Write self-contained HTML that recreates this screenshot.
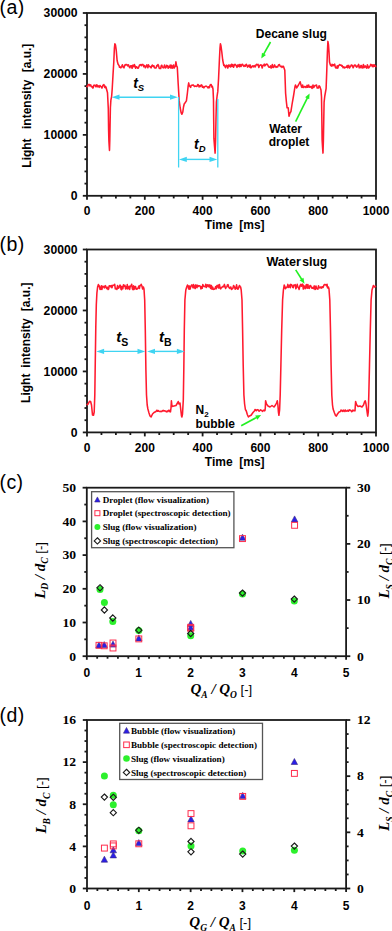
<!DOCTYPE html>
<html><head><meta charset="utf-8"><style>
html,body{margin:0;padding:0;background:#fff;overflow:hidden;}
svg{display:block;}
</style></head><body>
<svg width="392" height="931" viewBox="0 0 392 931">
<rect width="392" height="931" fill="#fff"/>
<rect x="87.00" y="13.00" width="289.00" height="182.80" fill="none" stroke="#1a1a1a" stroke-width="1.8"/>
<line x1="82.80" y1="195.80" x2="87.00" y2="195.80" stroke="#1a1a1a" stroke-width="1.8"/>
<line x1="84.50" y1="183.61" x2="87.00" y2="183.61" stroke="#1a1a1a" stroke-width="1.8"/>
<line x1="84.50" y1="171.43" x2="87.00" y2="171.43" stroke="#1a1a1a" stroke-width="1.8"/>
<line x1="84.50" y1="159.24" x2="87.00" y2="159.24" stroke="#1a1a1a" stroke-width="1.8"/>
<line x1="84.50" y1="147.05" x2="87.00" y2="147.05" stroke="#1a1a1a" stroke-width="1.8"/>
<line x1="82.80" y1="134.87" x2="87.00" y2="134.87" stroke="#1a1a1a" stroke-width="1.8"/>
<line x1="84.50" y1="122.68" x2="87.00" y2="122.68" stroke="#1a1a1a" stroke-width="1.8"/>
<line x1="84.50" y1="110.49" x2="87.00" y2="110.49" stroke="#1a1a1a" stroke-width="1.8"/>
<line x1="84.50" y1="98.31" x2="87.00" y2="98.31" stroke="#1a1a1a" stroke-width="1.8"/>
<line x1="84.50" y1="86.12" x2="87.00" y2="86.12" stroke="#1a1a1a" stroke-width="1.8"/>
<line x1="82.80" y1="73.93" x2="87.00" y2="73.93" stroke="#1a1a1a" stroke-width="1.8"/>
<line x1="84.50" y1="61.75" x2="87.00" y2="61.75" stroke="#1a1a1a" stroke-width="1.8"/>
<line x1="84.50" y1="49.56" x2="87.00" y2="49.56" stroke="#1a1a1a" stroke-width="1.8"/>
<line x1="84.50" y1="37.37" x2="87.00" y2="37.37" stroke="#1a1a1a" stroke-width="1.8"/>
<line x1="84.50" y1="25.19" x2="87.00" y2="25.19" stroke="#1a1a1a" stroke-width="1.8"/>
<line x1="82.80" y1="13.00" x2="87.00" y2="13.00" stroke="#1a1a1a" stroke-width="1.8"/>
<line x1="87.00" y1="195.80" x2="87.00" y2="199.80" stroke="#1a1a1a" stroke-width="1.8"/>
<line x1="101.45" y1="195.80" x2="101.45" y2="198.40" stroke="#1a1a1a" stroke-width="1.8"/>
<line x1="115.90" y1="195.80" x2="115.90" y2="198.40" stroke="#1a1a1a" stroke-width="1.8"/>
<line x1="130.35" y1="195.80" x2="130.35" y2="198.40" stroke="#1a1a1a" stroke-width="1.8"/>
<line x1="144.80" y1="195.80" x2="144.80" y2="199.80" stroke="#1a1a1a" stroke-width="1.8"/>
<line x1="159.25" y1="195.80" x2="159.25" y2="198.40" stroke="#1a1a1a" stroke-width="1.8"/>
<line x1="173.70" y1="195.80" x2="173.70" y2="198.40" stroke="#1a1a1a" stroke-width="1.8"/>
<line x1="188.15" y1="195.80" x2="188.15" y2="198.40" stroke="#1a1a1a" stroke-width="1.8"/>
<line x1="202.60" y1="195.80" x2="202.60" y2="199.80" stroke="#1a1a1a" stroke-width="1.8"/>
<line x1="217.05" y1="195.80" x2="217.05" y2="198.40" stroke="#1a1a1a" stroke-width="1.8"/>
<line x1="231.50" y1="195.80" x2="231.50" y2="198.40" stroke="#1a1a1a" stroke-width="1.8"/>
<line x1="245.95" y1="195.80" x2="245.95" y2="198.40" stroke="#1a1a1a" stroke-width="1.8"/>
<line x1="260.40" y1="195.80" x2="260.40" y2="199.80" stroke="#1a1a1a" stroke-width="1.8"/>
<line x1="274.85" y1="195.80" x2="274.85" y2="198.40" stroke="#1a1a1a" stroke-width="1.8"/>
<line x1="289.30" y1="195.80" x2="289.30" y2="198.40" stroke="#1a1a1a" stroke-width="1.8"/>
<line x1="303.75" y1="195.80" x2="303.75" y2="198.40" stroke="#1a1a1a" stroke-width="1.8"/>
<line x1="318.20" y1="195.80" x2="318.20" y2="199.80" stroke="#1a1a1a" stroke-width="1.8"/>
<line x1="332.65" y1="195.80" x2="332.65" y2="198.40" stroke="#1a1a1a" stroke-width="1.8"/>
<line x1="347.10" y1="195.80" x2="347.10" y2="198.40" stroke="#1a1a1a" stroke-width="1.8"/>
<line x1="361.55" y1="195.80" x2="361.55" y2="198.40" stroke="#1a1a1a" stroke-width="1.8"/>
<line x1="376.00" y1="195.80" x2="376.00" y2="199.80" stroke="#1a1a1a" stroke-width="1.8"/>
<text x="77.50" y="200.20" font-family="Liberation Sans" font-size="12.2" font-weight="bold" font-style="normal" text-anchor="end" >0</text>
<text x="77.50" y="139.27" font-family="Liberation Sans" font-size="12.2" font-weight="bold" font-style="normal" text-anchor="end" >10000</text>
<text x="77.50" y="78.33" font-family="Liberation Sans" font-size="12.2" font-weight="bold" font-style="normal" text-anchor="end" >20000</text>
<text x="77.50" y="17.40" font-family="Liberation Sans" font-size="12.2" font-weight="bold" font-style="normal" text-anchor="end" >30000</text>
<text x="87.00" y="215.10" font-family="Liberation Sans" font-size="12" font-weight="bold" font-style="normal" text-anchor="middle" >0</text>
<text x="144.80" y="215.10" font-family="Liberation Sans" font-size="12" font-weight="bold" font-style="normal" text-anchor="middle" >200</text>
<text x="202.60" y="215.10" font-family="Liberation Sans" font-size="12" font-weight="bold" font-style="normal" text-anchor="middle" >400</text>
<text x="260.40" y="215.10" font-family="Liberation Sans" font-size="12" font-weight="bold" font-style="normal" text-anchor="middle" >600</text>
<text x="318.20" y="215.10" font-family="Liberation Sans" font-size="12" font-weight="bold" font-style="normal" text-anchor="middle" >800</text>
<text x="376.00" y="215.10" font-family="Liberation Sans" font-size="12" font-weight="bold" font-style="normal" text-anchor="middle" >1000</text>
<text x="234.70" y="229.00" font-family="Liberation Sans" font-size="12" font-weight="bold" font-style="normal" text-anchor="middle" >Time&#160;&#160;[ms]</text>
<text transform="translate(31.4,167.70) rotate(-90)" font-family="Liberation Sans" font-size="12" font-weight="bold">Light</text>
<text transform="translate(31.4,129.00) rotate(-90)" font-family="Liberation Sans" font-size="12" font-weight="bold">intensity</text>
<text transform="translate(31.4,72.30) rotate(-90)" font-family="Liberation Sans" font-size="12" font-weight="bold">[a.u.]</text>
<text x="-0.50" y="13.70" font-family="Liberation Sans" font-size="19.5" font-weight="normal" font-style="normal" text-anchor="start" letter-spacing="0.4">(a)</text>
<rect x="87.00" y="249.50" width="289.00" height="182.90" fill="none" stroke="#1a1a1a" stroke-width="1.8"/>
<line x1="82.80" y1="432.40" x2="87.00" y2="432.40" stroke="#1a1a1a" stroke-width="1.8"/>
<line x1="84.50" y1="420.21" x2="87.00" y2="420.21" stroke="#1a1a1a" stroke-width="1.8"/>
<line x1="84.50" y1="408.01" x2="87.00" y2="408.01" stroke="#1a1a1a" stroke-width="1.8"/>
<line x1="84.50" y1="395.82" x2="87.00" y2="395.82" stroke="#1a1a1a" stroke-width="1.8"/>
<line x1="84.50" y1="383.63" x2="87.00" y2="383.63" stroke="#1a1a1a" stroke-width="1.8"/>
<line x1="82.80" y1="371.43" x2="87.00" y2="371.43" stroke="#1a1a1a" stroke-width="1.8"/>
<line x1="84.50" y1="359.24" x2="87.00" y2="359.24" stroke="#1a1a1a" stroke-width="1.8"/>
<line x1="84.50" y1="347.05" x2="87.00" y2="347.05" stroke="#1a1a1a" stroke-width="1.8"/>
<line x1="84.50" y1="334.85" x2="87.00" y2="334.85" stroke="#1a1a1a" stroke-width="1.8"/>
<line x1="84.50" y1="322.66" x2="87.00" y2="322.66" stroke="#1a1a1a" stroke-width="1.8"/>
<line x1="82.80" y1="310.47" x2="87.00" y2="310.47" stroke="#1a1a1a" stroke-width="1.8"/>
<line x1="84.50" y1="298.27" x2="87.00" y2="298.27" stroke="#1a1a1a" stroke-width="1.8"/>
<line x1="84.50" y1="286.08" x2="87.00" y2="286.08" stroke="#1a1a1a" stroke-width="1.8"/>
<line x1="84.50" y1="273.89" x2="87.00" y2="273.89" stroke="#1a1a1a" stroke-width="1.8"/>
<line x1="84.50" y1="261.69" x2="87.00" y2="261.69" stroke="#1a1a1a" stroke-width="1.8"/>
<line x1="82.80" y1="249.50" x2="87.00" y2="249.50" stroke="#1a1a1a" stroke-width="1.8"/>
<line x1="87.00" y1="432.40" x2="87.00" y2="436.40" stroke="#1a1a1a" stroke-width="1.8"/>
<line x1="101.45" y1="432.40" x2="101.45" y2="435.00" stroke="#1a1a1a" stroke-width="1.8"/>
<line x1="115.90" y1="432.40" x2="115.90" y2="435.00" stroke="#1a1a1a" stroke-width="1.8"/>
<line x1="130.35" y1="432.40" x2="130.35" y2="435.00" stroke="#1a1a1a" stroke-width="1.8"/>
<line x1="144.80" y1="432.40" x2="144.80" y2="436.40" stroke="#1a1a1a" stroke-width="1.8"/>
<line x1="159.25" y1="432.40" x2="159.25" y2="435.00" stroke="#1a1a1a" stroke-width="1.8"/>
<line x1="173.70" y1="432.40" x2="173.70" y2="435.00" stroke="#1a1a1a" stroke-width="1.8"/>
<line x1="188.15" y1="432.40" x2="188.15" y2="435.00" stroke="#1a1a1a" stroke-width="1.8"/>
<line x1="202.60" y1="432.40" x2="202.60" y2="436.40" stroke="#1a1a1a" stroke-width="1.8"/>
<line x1="217.05" y1="432.40" x2="217.05" y2="435.00" stroke="#1a1a1a" stroke-width="1.8"/>
<line x1="231.50" y1="432.40" x2="231.50" y2="435.00" stroke="#1a1a1a" stroke-width="1.8"/>
<line x1="245.95" y1="432.40" x2="245.95" y2="435.00" stroke="#1a1a1a" stroke-width="1.8"/>
<line x1="260.40" y1="432.40" x2="260.40" y2="436.40" stroke="#1a1a1a" stroke-width="1.8"/>
<line x1="274.85" y1="432.40" x2="274.85" y2="435.00" stroke="#1a1a1a" stroke-width="1.8"/>
<line x1="289.30" y1="432.40" x2="289.30" y2="435.00" stroke="#1a1a1a" stroke-width="1.8"/>
<line x1="303.75" y1="432.40" x2="303.75" y2="435.00" stroke="#1a1a1a" stroke-width="1.8"/>
<line x1="318.20" y1="432.40" x2="318.20" y2="436.40" stroke="#1a1a1a" stroke-width="1.8"/>
<line x1="332.65" y1="432.40" x2="332.65" y2="435.00" stroke="#1a1a1a" stroke-width="1.8"/>
<line x1="347.10" y1="432.40" x2="347.10" y2="435.00" stroke="#1a1a1a" stroke-width="1.8"/>
<line x1="361.55" y1="432.40" x2="361.55" y2="435.00" stroke="#1a1a1a" stroke-width="1.8"/>
<line x1="376.00" y1="432.40" x2="376.00" y2="436.40" stroke="#1a1a1a" stroke-width="1.8"/>
<text x="77.50" y="436.80" font-family="Liberation Sans" font-size="12.2" font-weight="bold" font-style="normal" text-anchor="end" >0</text>
<text x="77.50" y="375.83" font-family="Liberation Sans" font-size="12.2" font-weight="bold" font-style="normal" text-anchor="end" >10000</text>
<text x="77.50" y="314.87" font-family="Liberation Sans" font-size="12.2" font-weight="bold" font-style="normal" text-anchor="end" >20000</text>
<text x="77.50" y="253.90" font-family="Liberation Sans" font-size="12.2" font-weight="bold" font-style="normal" text-anchor="end" >30000</text>
<text x="87.00" y="451.70" font-family="Liberation Sans" font-size="12" font-weight="bold" font-style="normal" text-anchor="middle" >0</text>
<text x="144.80" y="451.70" font-family="Liberation Sans" font-size="12" font-weight="bold" font-style="normal" text-anchor="middle" >200</text>
<text x="202.60" y="451.70" font-family="Liberation Sans" font-size="12" font-weight="bold" font-style="normal" text-anchor="middle" >400</text>
<text x="260.40" y="451.70" font-family="Liberation Sans" font-size="12" font-weight="bold" font-style="normal" text-anchor="middle" >600</text>
<text x="318.20" y="451.70" font-family="Liberation Sans" font-size="12" font-weight="bold" font-style="normal" text-anchor="middle" >800</text>
<text x="376.00" y="451.70" font-family="Liberation Sans" font-size="12" font-weight="bold" font-style="normal" text-anchor="middle" >1000</text>
<text x="234.70" y="465.60" font-family="Liberation Sans" font-size="12" font-weight="bold" font-style="normal" text-anchor="middle" >Time&#160;&#160;[ms]</text>
<text transform="translate(29.5,402.90) rotate(-90)" font-family="Liberation Sans" font-size="12" font-weight="bold">Light</text>
<text transform="translate(29.5,367.70) rotate(-90)" font-family="Liberation Sans" font-size="12" font-weight="bold">intensity</text>
<text transform="translate(29.5,311.20) rotate(-90)" font-family="Liberation Sans" font-size="12" font-weight="bold">[a.u.]</text>
<text x="-0.50" y="250.70" font-family="Liberation Sans" font-size="19.5" font-weight="normal" font-style="normal" text-anchor="start" letter-spacing="0.4">(b)</text>
<path d="M86.60,85.67 L87.11,86.78 L87.60,86.48 L88.19,84.73 L88.85,84.48 L89.47,84.57 L89.96,85.86 L90.74,84.90 L91.28,86.62 L92.11,86.61 L92.72,88.05 L93.19,87.77 L93.76,85.17 L94.26,85.50 L95.03,85.07 L95.71,86.68 L96.31,86.51 L96.79,84.74 L97.33,86.79 L97.95,85.68 L98.63,86.07 L99.21,87.34 L99.93,85.48 L100.61,86.31 L101.41,87.13 L101.98,88.11 L102.48,86.19 L103.23,85.04 L103.87,84.51 L104.59,87.07 L105.27,87.73 L105.50,86.30 L106.00,87.30 L107.50,92.70 L108.30,108.80 L108.60,130.00 L108.90,141.00 L109.20,146.00 L109.50,150.40 L109.80,140.00 L110.00,129.00 L110.40,107.50 L110.90,100.00 L111.60,96.70 L112.20,89.00 L113.00,75.00 L113.80,61.80 L114.40,48.00 L114.90,43.70 L115.50,45.00 L116.20,49.80 L117.10,60.50 L118.00,64.00 L119.20,65.90 L119.50,67.27 L120.19,66.89 L120.82,67.89 L121.64,66.54 L122.36,64.76 L123.09,66.91 L123.93,67.82 L124.49,66.18 L125.21,64.58 L125.84,64.99 L126.35,64.60 L127.10,64.84 L127.65,65.90 L128.45,64.78 L129.08,66.52 L129.88,67.77 L130.67,65.75 L131.29,65.87 L132.09,68.25 L132.60,65.39 L133.14,65.33 L133.79,66.74 L134.35,64.56 L134.96,65.79 L135.64,68.22 L136.36,66.73 L137.06,67.22 L137.54,68.15 L138.30,68.15 L139.06,66.24 L139.67,64.90 L140.37,64.61 L140.86,65.16 L141.37,65.73 L141.85,64.44 L142.36,64.72 L142.96,64.44 L143.76,66.75 L144.27,65.54 L144.86,65.87 L145.36,67.82 L146.21,66.50 L146.85,64.86 L147.34,65.71 L147.90,67.72 L148.42,64.73 L149.25,66.44 L149.76,66.66 L150.22,66.63 L151.06,67.95 L151.79,65.70 L152.38,65.10 L153.14,66.49 L153.90,65.82 L154.44,67.67 L155.28,68.01 L156.05,67.91 L156.79,65.56 L157.45,65.83 L157.92,64.56 L158.48,65.35 L159.21,68.19 L159.84,68.40 L160.68,68.49 L161.27,65.59 L161.82,65.21 L162.35,66.86 L163.16,67.88 L163.80,67.24 L164.57,64.93 L165.28,67.97 L166.04,67.64 L166.68,65.34 L167.44,65.72 L168.21,68.29 L168.82,66.29 L169.64,67.37 L170.17,65.11 L170.68,67.96 L171.45,65.25 L172.23,68.28 L172.94,66.09 L173.61,65.00 L174.07,68.21 L174.78,66.78 L175.30,66.50 L175.90,61.80 L176.60,66.00 L177.30,67.20 L178.20,84.00 L179.20,100.90 L180.20,108.00 L181.20,113.00 L181.90,114.30 L182.80,112.00 L183.50,107.00 L184.20,104.00 L185.30,102.50 L186.40,100.90 L187.40,93.00 L188.20,85.60 L188.70,82.90 L189.30,86.00 L189.80,86.06 L190.59,87.45 L191.13,85.52 L191.70,85.29 L192.39,85.33 L193.00,84.88 L193.81,85.63 L194.45,86.53 L195.25,86.04 L196.07,86.28 L196.73,86.38 L197.19,86.09 L197.72,84.49 L198.49,84.94 L199.13,86.97 L199.80,85.74 L200.45,86.44 L201.22,84.90 L201.89,85.25 L202.45,87.18 L203.10,86.61 L203.86,87.82 L204.48,86.86 L205.14,86.40 L205.86,86.14 L206.52,86.20 L207.35,87.01 L208.14,87.96 L208.70,86.68 L209.52,87.56 L210.03,85.06 L210.66,84.64 L211.21,84.60 L211.92,87.15 L212.30,86.30 L213.00,89.00 L213.50,100.00 L213.70,120.00 L213.90,138.40 L214.50,146.00 L215.10,153.10 L215.60,140.00 L216.00,118.00 L216.40,102.10 L217.10,96.00 L217.80,91.40 L218.60,78.00 L219.40,60.00 L220.00,48.00 L220.40,43.70 L221.00,46.00 L221.80,52.00 L222.70,60.00 L223.80,65.50 L224.30,64.83 L225.03,66.70 L225.55,67.77 L226.38,65.25 L227.20,65.70 L227.85,68.09 L228.63,65.05 L229.25,66.15 L229.84,64.99 L230.42,66.96 L230.88,66.49 L231.51,64.32 L232.09,66.50 L232.75,64.50 L233.59,67.17 L234.42,64.73 L234.98,64.23 L235.74,65.09 L236.24,65.78 L237.05,67.42 L237.61,64.93 L238.42,66.35 L239.15,64.59 L239.63,66.78 L240.25,64.57 L241.07,66.57 L241.84,64.59 L242.63,64.32 L243.42,65.83 L244.01,66.37 L244.82,65.30 L245.33,66.22 L245.88,64.66 L246.39,64.27 L246.93,65.26 L247.50,67.13 L248.07,66.29 L248.59,65.60 L249.06,65.15 L249.52,67.02 L250.19,65.05 L250.83,67.81 L251.32,67.62 L251.95,66.32 L252.73,65.79 L253.38,66.90 L254.22,65.65 L255.00,66.96 L255.70,65.90 L256.29,64.41 L256.80,64.32 L257.54,65.04 L258.06,64.44 L258.84,67.49 L259.56,65.47 L260.11,65.31 L260.74,64.75 L261.37,65.12 L262.20,67.96 L262.87,65.36 L263.70,65.36 L264.30,64.14 L264.90,65.89 L265.55,64.99 L266.20,64.12 L266.76,64.37 L267.37,64.20 L267.83,65.22 L268.38,66.44 L269.04,67.22 L269.75,67.16 L270.55,65.86 L271.13,68.09 L271.65,67.28 L272.35,64.50 L273.13,67.58 L273.83,67.26 L274.60,64.88 L275.26,66.09 L276.04,67.40 L276.82,66.65 L277.63,66.97 L278.35,65.21 L278.82,64.65 L279.41,64.48 L280.19,66.26 L280.89,66.71 L281.61,66.21 L282.07,67.38 L282.82,66.33 L283.40,66.20 L284.80,70.30 L285.60,93.30 L286.40,102.00 L287.10,107.80 L288.20,107.80 L289.00,116.20 L290.00,113.00 L290.90,111.60 L292.10,104.00 L293.50,96.00 L295.00,86.50 L295.50,85.00 L296.70,87.90 L298.50,85.00 L300.10,81.80 L301.20,85.60 L301.60,87.07 L302.08,87.41 L302.63,85.06 L303.19,87.18 L303.73,87.43 L304.56,86.57 L305.17,86.43 L305.89,87.45 L306.58,87.11 L307.07,85.29 L307.62,87.25 L308.20,86.82 L308.66,84.95 L309.22,86.96 L309.94,87.18 L310.51,86.63 L311.15,86.39 L311.65,87.91 L312.18,88.36 L313.00,84.95 L313.64,87.50 L314.47,86.42 L315.03,85.45 L315.85,85.35 L316.53,85.10 L317.19,87.99 L317.70,87.80 L318.35,88.02 L319.08,85.69 L319.80,86.50 L321.00,90.00 L321.50,97.00 L321.80,115.00 L322.10,139.70 L322.60,148.00 L323.00,153.10 L323.40,140.00 L323.80,118.00 L324.10,102.10 L324.80,96.00 L325.50,92.00 L326.10,88.70 L326.80,70.00 L327.40,52.00 L327.90,41.40 L328.50,45.00 L329.00,52.00 L329.50,62.00 L330.40,65.00 L331.20,65.90 L331.60,66.15 L332.06,64.23 L332.71,65.81 L333.28,64.74 L333.87,65.33 L334.66,64.14 L335.40,67.34 L335.91,68.00 L336.64,67.97 L337.21,65.87 L337.81,68.14 L338.50,65.84 L339.12,65.27 L339.60,64.53 L340.38,65.18 L341.20,65.11 L341.75,66.13 L342.28,65.69 L343.11,67.67 L343.88,66.87 L344.69,68.01 L345.36,67.25 L345.84,67.23 L346.47,67.30 L347.18,65.46 L347.65,67.82 L348.15,66.25 L348.74,65.40 L349.49,68.01 L350.04,67.00 L350.61,66.51 L351.22,64.91 L351.74,64.91 L352.55,66.06 L353.09,67.79 L353.93,66.16 L354.44,64.98 L354.93,65.45 L355.42,65.09 L355.98,66.36 L356.78,67.21 L357.40,65.96 L358.06,65.69 L358.64,64.41 L359.21,67.87 L359.71,66.38 L360.41,67.66 L360.95,65.44 L361.50,65.73 L362.13,67.95 L362.92,67.85 L363.38,64.51 L364.11,67.60 L364.75,66.69 L365.21,65.82 L366.02,67.45 L366.81,68.20 L367.36,64.85 L367.88,66.15 L368.60,67.94 L369.34,66.96 L370.09,66.11 L370.76,64.37 L371.52,64.96 L372.33,66.65 L372.91,64.77 L373.46,66.60 L374.19,64.70 L374.67,66.15 L375.35,65.75 L375.90,66.56 L376.00,66.20" fill="none" stroke="#ff1a2e" stroke-width="1.55" stroke-linejoin="round"/>
<path d="M86.60,405.00 L88.00,404.00 L89.70,401.20 L90.60,401.50 L91.50,405.00 L92.00,410.00 L92.50,415.00 L93.50,415.30 L94.20,412.00 L94.80,395.00 L95.30,360.00 L95.80,326.50 L96.30,305.00 L96.90,293.00 L97.60,287.00 L98.40,284.50 L99.00,286.50 L99.40,285.93 L100.03,289.37 L100.74,289.31 L101.38,285.80 L101.93,289.37 L102.66,286.20 L103.13,286.91 L103.84,286.56 L104.40,287.86 L105.22,285.61 L105.68,285.99 L106.30,287.88 L106.83,288.69 L107.58,287.20 L108.11,289.56 L108.69,288.98 L109.23,285.69 L109.99,285.76 L110.81,286.85 L111.34,285.49 L111.96,287.74 L112.78,285.16 L113.39,285.27 L114.23,284.89 L114.70,284.41 L115.31,288.89 L116.11,288.45 L116.95,289.48 L117.54,285.55 L118.36,288.18 L118.82,288.01 L119.43,286.42 L120.01,285.16 L120.47,285.63 L121.06,289.32 L121.56,289.74 L122.10,286.50 L122.87,288.69 L123.50,284.73 L124.14,286.09 L124.95,285.25 L125.55,288.97 L126.02,286.72 L126.79,288.41 L127.26,284.63 L127.74,289.03 L128.29,288.54 L129.10,286.28 L129.66,289.40 L130.35,285.96 L131.09,285.90 L131.65,284.21 L132.40,288.97 L133.10,289.59 L133.57,285.82 L134.21,289.35 L135.04,286.62 L135.59,286.58 L136.24,289.27 L136.76,288.86 L137.51,288.93 L138.26,287.77 L138.84,286.10 L139.44,288.43 L139.93,285.51 L140.67,285.49 L141.16,284.33 L141.83,285.79 L142.66,288.95 L143.40,287.00 L144.00,289.00 L144.70,300.00 L145.30,330.00 L145.90,370.00 L146.50,395.00 L147.20,405.00 L147.90,409.00 L149.00,413.00 L150.00,416.00 L151.10,417.00 L152.50,414.00 L154.00,412.50 L156.00,411.50 L156.50,410.58 L156.99,410.23 L157.64,411.30 L158.27,410.55 L158.88,411.17 L159.60,411.46 L160.39,411.34 L160.89,411.65 L161.46,411.19 L162.06,411.45 L162.59,410.59 L163.14,410.33 L163.94,411.07 L164.53,410.82 L165.37,411.00 L165.91,411.55 L166.62,411.94 L167.12,411.05 L167.89,411.62 L168.70,410.23 L169.27,410.24 L169.80,411.78 L170.48,411.85 L170.60,411.00 L171.00,408.00 L171.40,400.80 L172.00,406.50 L174.00,406.00 L176.00,405.50 L177.50,403.00 L178.20,401.50 L179.00,404.00 L180.00,403.00 L180.80,410.00 L181.50,416.00 L181.90,417.00 L182.50,414.00 L183.30,400.00 L183.80,370.00 L184.30,330.00 L184.90,300.00 L185.80,290.00 L186.70,287.00 L187.50,285.00 L188.20,286.50 L188.60,288.98 L189.23,285.90 L189.99,289.30 L190.48,287.75 L191.18,285.55 L191.78,284.92 L192.31,285.47 L193.00,287.67 L193.54,284.43 L194.12,287.71 L194.65,286.06 L195.18,288.50 L195.85,284.79 L196.35,286.21 L197.01,287.67 L197.51,285.25 L198.23,286.34 L198.80,285.89 L199.62,285.88 L200.30,286.12 L200.92,288.88 L201.76,286.45 L202.29,288.18 L202.83,284.45 L203.63,286.33 L204.41,286.43 L205.21,286.73 L205.73,284.35 L206.40,287.49 L207.21,284.83 L207.90,286.09 L208.56,285.00 L209.12,286.91 L209.94,284.88 L210.58,288.43 L211.42,285.51 L211.92,289.24 L212.76,287.13 L213.23,289.31 L213.84,289.41 L214.53,288.99 L215.05,288.74 L215.59,286.66 L216.38,288.74 L216.91,285.65 L217.52,286.96 L218.12,284.96 L218.67,288.01 L219.48,284.62 L220.15,288.15 L220.62,288.94 L221.12,287.73 L221.79,287.76 L222.37,286.64 L223.05,286.56 L223.76,286.67 L224.39,284.39 L225.08,286.68 L225.63,288.39 L226.39,286.91 L226.91,286.85 L227.41,284.98 L228.03,284.59 L228.66,286.81 L229.13,287.72 L229.62,288.33 L230.38,287.20 L230.85,287.04 L231.46,289.44 L231.96,289.17 L232.81,288.47 L233.58,285.49 L234.42,286.81 L235.25,289.23 L235.77,288.78 L236.58,284.83 L237.17,288.17 L237.69,289.26 L238.25,288.93 L238.77,287.20 L239.58,285.45 L240.14,286.88 L240.60,287.00 L241.20,290.00 L242.00,300.00 L242.60,330.00 L243.20,365.00 L243.90,395.00 L244.60,404.00 L245.40,409.50 L246.30,411.00 L247.30,414.50 L248.40,417.00 L249.50,416.00 L251.10,415.20 L253.00,412.50 L254.60,410.70 L255.00,409.57 L255.53,409.71 L256.35,410.65 L257.15,409.83 L257.91,409.65 L258.57,410.57 L259.17,411.09 L259.84,410.61 L260.64,409.71 L261.48,410.56 L262.09,410.95 L262.65,411.34 L263.33,410.24 L264.08,410.28 L264.61,410.83 L265.00,410.40 L265.30,408.00 L265.60,400.80 L266.50,404.00 L268.00,406.00 L270.00,407.00 L272.00,405.50 L274.00,407.00 L275.50,405.00 L276.50,403.00 L277.30,400.80 L277.90,405.00 L278.40,412.00 L278.90,415.30 L279.60,410.00 L280.20,395.00 L280.90,365.00 L281.70,330.00 L282.60,300.00 L283.40,290.00 L284.20,285.00 L284.90,286.50 L285.30,288.73 L285.85,287.92 L286.69,287.56 L287.41,286.04 L287.86,284.39 L288.38,287.37 L289.00,287.10 L289.80,285.02 L290.35,287.63 L290.81,284.38 L291.40,284.61 L292.00,285.27 L292.68,287.31 L293.22,287.70 L293.86,285.10 L294.68,285.43 L295.19,284.66 L295.89,288.77 L296.65,286.65 L297.21,284.33 L297.92,287.07 L298.51,287.79 L299.14,289.44 L299.88,285.89 L300.69,284.43 L301.35,286.23 L301.90,284.54 L302.65,284.12 L303.32,289.09 L303.84,285.59 L304.53,286.90 L305.23,288.68 L305.76,286.14 L306.33,284.48 L307.13,288.28 L307.86,284.46 L308.65,288.07 L309.28,288.41 L309.92,285.66 L310.41,285.42 L310.88,285.95 L311.63,287.95 L312.41,288.24 L312.97,287.41 L313.60,288.60 L314.26,285.89 L314.96,289.40 L315.50,289.29 L315.96,285.94 L316.51,288.21 L317.33,288.45 L317.92,289.20 L318.50,285.81 L319.31,287.59 L320.03,287.95 L320.87,286.93 L321.65,288.06 L322.44,286.77 L323.18,287.36 L323.75,285.48 L324.45,284.57 L325.26,284.84 L325.73,284.66 L326.55,285.93 L327.06,284.35 L327.53,287.77 L328.23,288.14 L328.40,287.00 L329.00,289.00 L329.80,300.00 L330.50,330.00 L331.10,365.00 L331.80,395.00 L332.50,405.00 L333.10,409.00 L334.50,413.00 L335.50,415.50 L336.30,416.10 L337.50,414.00 L339.00,412.00 L340.50,411.50 L341.00,410.02 L341.69,410.48 L342.46,411.34 L343.26,410.07 L344.06,411.47 L344.88,410.16 L345.41,410.04 L345.88,411.35 L346.65,411.10 L347.43,411.07 L348.00,410.11 L348.49,411.19 L349.03,410.51 L349.65,409.91 L350.20,410.32 L350.94,410.51 L351.52,411.61 L352.17,411.51 L352.86,410.03 L353.48,410.61 L354.24,410.51 L354.97,410.84 L355.00,410.80 L355.30,406.00 L355.60,401.60 L356.50,404.50 L358.00,406.50 L360.00,406.00 L362.00,407.00 L363.50,405.00 L364.50,402.00 L365.30,400.80 L366.00,404.00 L366.80,410.00 L367.70,416.10 L368.30,412.00 L368.80,395.00 L369.50,365.00 L370.30,330.00 L371.10,300.00 L372.00,290.00 L373.40,285.50 L374.50,287.00 L376.00,286.00" fill="none" stroke="#ff1a2e" stroke-width="1.55" stroke-linejoin="round"/>
<line x1="118.50" y1="97.20" x2="171.00" y2="97.20" stroke="#3fd4f2" stroke-width="1.4"/>
<path d="M111.70,97.20 L119.50,94.60 L119.50,99.80 Z" fill="#3fd4f2"/>
<path d="M177.80,97.20 L170.00,94.60 L170.00,99.80 Z" fill="#3fd4f2"/>
<line x1="178.6" y1="97" x2="178.6" y2="167.5" stroke="#3fd4f2" stroke-width="1.3"/>
<line x1="185.80" y1="159.40" x2="210.50" y2="159.40" stroke="#3fd4f2" stroke-width="1.4"/>
<path d="M179.00,159.40 L186.80,156.80 L186.80,162.00 Z" fill="#3fd4f2"/>
<path d="M217.30,159.40 L209.50,156.80 L209.50,162.00 Z" fill="#3fd4f2"/>
<line x1="217.8" y1="99" x2="217.8" y2="167.5" stroke="#3fd4f2" stroke-width="1.3"/>
<text x="133.20" y="87.80" font-family="Liberation Sans" font-size="14" font-weight="bold" font-style="italic">t<tspan font-size="9.5" dy="2.9">S</tspan></text>
<text x="194.00" y="148.90" font-family="Liberation Sans" font-size="14" font-weight="bold" font-style="italic">t<tspan font-size="9.5" dy="2.9">D</tspan></text>
<line x1="103.10" y1="351.40" x2="138.50" y2="351.40" stroke="#3fd4f2" stroke-width="1.4"/>
<path d="M96.30,351.40 L104.10,348.80 L104.10,354.00 Z" fill="#3fd4f2"/>
<path d="M145.30,351.40 L137.50,348.80 L137.50,354.00 Z" fill="#3fd4f2"/>
<line x1="154.00" y1="351.40" x2="177.90" y2="351.40" stroke="#3fd4f2" stroke-width="1.4"/>
<path d="M147.20,351.40 L155.00,348.80 L155.00,354.00 Z" fill="#3fd4f2"/>
<path d="M184.70,351.40 L176.90,348.80 L176.90,354.00 Z" fill="#3fd4f2"/>
<text x="116.2" y="342.0" font-family="Liberation Sans" font-size="15" font-weight="bold"><tspan font-style="italic">t</tspan><tspan font-size="10.5" dy="3.7">S</tspan></text>
<text x="158.9" y="342.0" font-family="Liberation Sans" font-size="15" font-weight="bold"><tspan font-style="italic">t</tspan><tspan font-size="10.5" dy="3.7">B</tspan></text>
<text x="291.30" y="38.20" font-family="Liberation Sans" font-size="12.1" font-weight="bold" font-style="normal" text-anchor="middle" >Decane slug</text>
<line x1="270.50" y1="42.00" x2="263.72" y2="54.23" stroke="#22f022" stroke-width="1.6"/>
<path d="M261.30,58.60 L261.95,52.67 L265.98,54.90 Z" fill="#22f022"/>
<text x="285.60" y="133.00" font-family="Liberation Sans" font-size="12" font-weight="bold" font-style="normal" text-anchor="middle" >Water</text>
<text x="289.00" y="145.80" font-family="Liberation Sans" font-size="12" font-weight="bold" font-style="normal" text-anchor="middle" >droplet</text>
<line x1="295.60" y1="121.70" x2="307.38" y2="97.88" stroke="#22f022" stroke-width="1.6"/>
<path d="M309.60,93.40 L309.22,99.35 L305.10,97.31 Z" fill="#22f022"/>
<text x="266.40" y="266.40" font-family="Liberation Sans" font-size="12.6" font-weight="bold" font-style="normal" text-anchor="start" >Water</text>
<text x="302.30" y="266.40" font-family="Liberation Sans" font-size="12.1" font-weight="bold" font-style="normal" text-anchor="start" >slug</text>
<line x1="295.70" y1="269.90" x2="301.81" y2="279.48" stroke="#22f022" stroke-width="1.6"/>
<path d="M304.50,283.70 L299.60,280.30 L303.48,277.83 Z" fill="#22f022"/>
<text x="195.6" y="414.4" font-family="Liberation Sans" font-size="12" font-weight="bold">N<tspan font-size="8" dy="2.5">2</tspan></text>
<text x="195.60" y="428.20" font-family="Liberation Sans" font-size="12" font-weight="bold" font-style="normal" text-anchor="start" >bubble</text>
<line x1="241.20" y1="425.70" x2="256.70" y2="417.37" stroke="#22f022" stroke-width="1.6"/>
<path d="M261.10,415.00 L257.35,419.63 L255.17,415.58 Z" fill="#22f022"/>
<rect x="86.80" y="487.70" width="259.30" height="168.50" fill="none" stroke="#1a1a1a" stroke-width="1.8"/>
<line x1="82.60" y1="656.20" x2="86.80" y2="656.20" stroke="#1a1a1a" stroke-width="1.8"/>
<line x1="84.30" y1="639.35" x2="86.80" y2="639.35" stroke="#1a1a1a" stroke-width="1.8"/>
<line x1="82.60" y1="622.50" x2="86.80" y2="622.50" stroke="#1a1a1a" stroke-width="1.8"/>
<line x1="84.30" y1="605.65" x2="86.80" y2="605.65" stroke="#1a1a1a" stroke-width="1.8"/>
<line x1="82.60" y1="588.80" x2="86.80" y2="588.80" stroke="#1a1a1a" stroke-width="1.8"/>
<line x1="84.30" y1="571.95" x2="86.80" y2="571.95" stroke="#1a1a1a" stroke-width="1.8"/>
<line x1="82.60" y1="555.10" x2="86.80" y2="555.10" stroke="#1a1a1a" stroke-width="1.8"/>
<line x1="84.30" y1="538.25" x2="86.80" y2="538.25" stroke="#1a1a1a" stroke-width="1.8"/>
<line x1="82.60" y1="521.40" x2="86.80" y2="521.40" stroke="#1a1a1a" stroke-width="1.8"/>
<line x1="84.30" y1="504.55" x2="86.80" y2="504.55" stroke="#1a1a1a" stroke-width="1.8"/>
<line x1="82.60" y1="487.70" x2="86.80" y2="487.70" stroke="#1a1a1a" stroke-width="1.8"/>
<line x1="346.10" y1="656.20" x2="350.30" y2="656.20" stroke="#1a1a1a" stroke-width="1.8"/>
<line x1="346.10" y1="628.12" x2="348.60" y2="628.12" stroke="#1a1a1a" stroke-width="1.8"/>
<line x1="346.10" y1="600.03" x2="350.30" y2="600.03" stroke="#1a1a1a" stroke-width="1.8"/>
<line x1="346.10" y1="571.95" x2="348.60" y2="571.95" stroke="#1a1a1a" stroke-width="1.8"/>
<line x1="346.10" y1="543.87" x2="350.30" y2="543.87" stroke="#1a1a1a" stroke-width="1.8"/>
<line x1="346.10" y1="515.78" x2="348.60" y2="515.78" stroke="#1a1a1a" stroke-width="1.8"/>
<line x1="346.10" y1="487.70" x2="350.30" y2="487.70" stroke="#1a1a1a" stroke-width="1.8"/>
<line x1="86.80" y1="656.20" x2="86.80" y2="659.80" stroke="#1a1a1a" stroke-width="1.8"/>
<line x1="97.17" y1="656.20" x2="97.17" y2="658.70" stroke="#1a1a1a" stroke-width="1.8"/>
<line x1="107.54" y1="656.20" x2="107.54" y2="658.70" stroke="#1a1a1a" stroke-width="1.8"/>
<line x1="117.92" y1="656.20" x2="117.92" y2="658.70" stroke="#1a1a1a" stroke-width="1.8"/>
<line x1="128.29" y1="656.20" x2="128.29" y2="658.70" stroke="#1a1a1a" stroke-width="1.8"/>
<line x1="138.66" y1="656.20" x2="138.66" y2="659.80" stroke="#1a1a1a" stroke-width="1.8"/>
<line x1="149.03" y1="656.20" x2="149.03" y2="658.70" stroke="#1a1a1a" stroke-width="1.8"/>
<line x1="159.40" y1="656.20" x2="159.40" y2="658.70" stroke="#1a1a1a" stroke-width="1.8"/>
<line x1="169.78" y1="656.20" x2="169.78" y2="658.70" stroke="#1a1a1a" stroke-width="1.8"/>
<line x1="180.15" y1="656.20" x2="180.15" y2="658.70" stroke="#1a1a1a" stroke-width="1.8"/>
<line x1="190.52" y1="656.20" x2="190.52" y2="659.80" stroke="#1a1a1a" stroke-width="1.8"/>
<line x1="200.89" y1="656.20" x2="200.89" y2="658.70" stroke="#1a1a1a" stroke-width="1.8"/>
<line x1="211.26" y1="656.20" x2="211.26" y2="658.70" stroke="#1a1a1a" stroke-width="1.8"/>
<line x1="221.64" y1="656.20" x2="221.64" y2="658.70" stroke="#1a1a1a" stroke-width="1.8"/>
<line x1="232.01" y1="656.20" x2="232.01" y2="658.70" stroke="#1a1a1a" stroke-width="1.8"/>
<line x1="242.38" y1="656.20" x2="242.38" y2="659.80" stroke="#1a1a1a" stroke-width="1.8"/>
<line x1="252.75" y1="656.20" x2="252.75" y2="658.70" stroke="#1a1a1a" stroke-width="1.8"/>
<line x1="263.12" y1="656.20" x2="263.12" y2="658.70" stroke="#1a1a1a" stroke-width="1.8"/>
<line x1="273.50" y1="656.20" x2="273.50" y2="658.70" stroke="#1a1a1a" stroke-width="1.8"/>
<line x1="283.87" y1="656.20" x2="283.87" y2="658.70" stroke="#1a1a1a" stroke-width="1.8"/>
<line x1="294.24" y1="656.20" x2="294.24" y2="659.80" stroke="#1a1a1a" stroke-width="1.8"/>
<line x1="304.61" y1="656.20" x2="304.61" y2="658.70" stroke="#1a1a1a" stroke-width="1.8"/>
<line x1="314.98" y1="656.20" x2="314.98" y2="658.70" stroke="#1a1a1a" stroke-width="1.8"/>
<line x1="325.36" y1="656.20" x2="325.36" y2="658.70" stroke="#1a1a1a" stroke-width="1.8"/>
<line x1="335.73" y1="656.20" x2="335.73" y2="658.70" stroke="#1a1a1a" stroke-width="1.8"/>
<line x1="346.10" y1="656.20" x2="346.10" y2="659.80" stroke="#1a1a1a" stroke-width="1.8"/>
<text transform="translate(76.10,660.50) scale(1.05,1)" font-family="Liberation Serif" font-size="13" font-weight="bold" font-style="normal" text-anchor="end" >0</text>
<text transform="translate(76.10,626.80) scale(1.05,1)" font-family="Liberation Serif" font-size="13" font-weight="bold" font-style="normal" text-anchor="end" >10</text>
<text transform="translate(76.10,593.10) scale(1.05,1)" font-family="Liberation Serif" font-size="13" font-weight="bold" font-style="normal" text-anchor="end" >20</text>
<text transform="translate(76.10,559.40) scale(1.05,1)" font-family="Liberation Serif" font-size="13" font-weight="bold" font-style="normal" text-anchor="end" >30</text>
<text transform="translate(76.10,525.70) scale(1.05,1)" font-family="Liberation Serif" font-size="13" font-weight="bold" font-style="normal" text-anchor="end" >40</text>
<text transform="translate(76.10,492.00) scale(1.05,1)" font-family="Liberation Serif" font-size="13" font-weight="bold" font-style="normal" text-anchor="end" >50</text>
<text transform="translate(357.00,660.50) scale(1.05,1)" font-family="Liberation Serif" font-size="13" font-weight="bold" font-style="normal" text-anchor="start" >0</text>
<text transform="translate(357.00,604.33) scale(1.05,1)" font-family="Liberation Serif" font-size="13" font-weight="bold" font-style="normal" text-anchor="start" >10</text>
<text transform="translate(357.00,548.17) scale(1.05,1)" font-family="Liberation Serif" font-size="13" font-weight="bold" font-style="normal" text-anchor="start" >20</text>
<text transform="translate(357.00,492.00) scale(1.05,1)" font-family="Liberation Serif" font-size="13" font-weight="bold" font-style="normal" text-anchor="start" >30</text>
<text x="86.80" y="676.50" font-family="Liberation Sans" font-size="12" font-weight="bold" font-style="normal" text-anchor="middle" >0</text>
<text x="138.66" y="676.50" font-family="Liberation Sans" font-size="12" font-weight="bold" font-style="normal" text-anchor="middle" >1</text>
<text x="190.52" y="676.50" font-family="Liberation Sans" font-size="12" font-weight="bold" font-style="normal" text-anchor="middle" >2</text>
<text x="242.38" y="676.50" font-family="Liberation Sans" font-size="12" font-weight="bold" font-style="normal" text-anchor="middle" >3</text>
<text x="294.24" y="676.50" font-family="Liberation Sans" font-size="12" font-weight="bold" font-style="normal" text-anchor="middle" >4</text>
<text x="346.10" y="676.50" font-family="Liberation Sans" font-size="12" font-weight="bold" font-style="normal" text-anchor="middle" >5</text>
<text x="-0.50" y="488.80" font-family="Liberation Sans" font-size="19.5" font-weight="normal" font-style="normal" text-anchor="start" letter-spacing="0.4">(c)</text>
<rect x="87.00" y="720.00" width="259.10" height="168.50" fill="none" stroke="#1a1a1a" stroke-width="1.8"/>
<line x1="82.80" y1="888.50" x2="87.00" y2="888.50" stroke="#1a1a1a" stroke-width="1.8"/>
<line x1="84.50" y1="877.97" x2="87.00" y2="877.97" stroke="#1a1a1a" stroke-width="1.8"/>
<line x1="84.50" y1="867.44" x2="87.00" y2="867.44" stroke="#1a1a1a" stroke-width="1.8"/>
<line x1="84.50" y1="856.91" x2="87.00" y2="856.91" stroke="#1a1a1a" stroke-width="1.8"/>
<line x1="82.80" y1="846.38" x2="87.00" y2="846.38" stroke="#1a1a1a" stroke-width="1.8"/>
<line x1="84.50" y1="835.84" x2="87.00" y2="835.84" stroke="#1a1a1a" stroke-width="1.8"/>
<line x1="84.50" y1="825.31" x2="87.00" y2="825.31" stroke="#1a1a1a" stroke-width="1.8"/>
<line x1="84.50" y1="814.78" x2="87.00" y2="814.78" stroke="#1a1a1a" stroke-width="1.8"/>
<line x1="82.80" y1="804.25" x2="87.00" y2="804.25" stroke="#1a1a1a" stroke-width="1.8"/>
<line x1="84.50" y1="793.72" x2="87.00" y2="793.72" stroke="#1a1a1a" stroke-width="1.8"/>
<line x1="84.50" y1="783.19" x2="87.00" y2="783.19" stroke="#1a1a1a" stroke-width="1.8"/>
<line x1="84.50" y1="772.66" x2="87.00" y2="772.66" stroke="#1a1a1a" stroke-width="1.8"/>
<line x1="82.80" y1="762.12" x2="87.00" y2="762.12" stroke="#1a1a1a" stroke-width="1.8"/>
<line x1="84.50" y1="751.59" x2="87.00" y2="751.59" stroke="#1a1a1a" stroke-width="1.8"/>
<line x1="84.50" y1="741.06" x2="87.00" y2="741.06" stroke="#1a1a1a" stroke-width="1.8"/>
<line x1="84.50" y1="730.53" x2="87.00" y2="730.53" stroke="#1a1a1a" stroke-width="1.8"/>
<line x1="82.80" y1="720.00" x2="87.00" y2="720.00" stroke="#1a1a1a" stroke-width="1.8"/>
<line x1="346.10" y1="888.50" x2="350.30" y2="888.50" stroke="#1a1a1a" stroke-width="1.8"/>
<line x1="346.10" y1="874.46" x2="348.60" y2="874.46" stroke="#1a1a1a" stroke-width="1.8"/>
<line x1="346.10" y1="860.42" x2="348.60" y2="860.42" stroke="#1a1a1a" stroke-width="1.8"/>
<line x1="346.10" y1="846.38" x2="348.60" y2="846.38" stroke="#1a1a1a" stroke-width="1.8"/>
<line x1="346.10" y1="832.33" x2="350.30" y2="832.33" stroke="#1a1a1a" stroke-width="1.8"/>
<line x1="346.10" y1="818.29" x2="348.60" y2="818.29" stroke="#1a1a1a" stroke-width="1.8"/>
<line x1="346.10" y1="804.25" x2="348.60" y2="804.25" stroke="#1a1a1a" stroke-width="1.8"/>
<line x1="346.10" y1="790.21" x2="348.60" y2="790.21" stroke="#1a1a1a" stroke-width="1.8"/>
<line x1="346.10" y1="776.17" x2="350.30" y2="776.17" stroke="#1a1a1a" stroke-width="1.8"/>
<line x1="346.10" y1="762.12" x2="348.60" y2="762.12" stroke="#1a1a1a" stroke-width="1.8"/>
<line x1="346.10" y1="748.08" x2="348.60" y2="748.08" stroke="#1a1a1a" stroke-width="1.8"/>
<line x1="346.10" y1="734.04" x2="348.60" y2="734.04" stroke="#1a1a1a" stroke-width="1.8"/>
<line x1="346.10" y1="720.00" x2="350.30" y2="720.00" stroke="#1a1a1a" stroke-width="1.8"/>
<line x1="87.00" y1="888.50" x2="87.00" y2="892.10" stroke="#1a1a1a" stroke-width="1.8"/>
<line x1="97.36" y1="888.50" x2="97.36" y2="891.00" stroke="#1a1a1a" stroke-width="1.8"/>
<line x1="107.73" y1="888.50" x2="107.73" y2="891.00" stroke="#1a1a1a" stroke-width="1.8"/>
<line x1="118.09" y1="888.50" x2="118.09" y2="891.00" stroke="#1a1a1a" stroke-width="1.8"/>
<line x1="128.46" y1="888.50" x2="128.46" y2="891.00" stroke="#1a1a1a" stroke-width="1.8"/>
<line x1="138.82" y1="888.50" x2="138.82" y2="892.10" stroke="#1a1a1a" stroke-width="1.8"/>
<line x1="149.18" y1="888.50" x2="149.18" y2="891.00" stroke="#1a1a1a" stroke-width="1.8"/>
<line x1="159.55" y1="888.50" x2="159.55" y2="891.00" stroke="#1a1a1a" stroke-width="1.8"/>
<line x1="169.91" y1="888.50" x2="169.91" y2="891.00" stroke="#1a1a1a" stroke-width="1.8"/>
<line x1="180.28" y1="888.50" x2="180.28" y2="891.00" stroke="#1a1a1a" stroke-width="1.8"/>
<line x1="190.64" y1="888.50" x2="190.64" y2="892.10" stroke="#1a1a1a" stroke-width="1.8"/>
<line x1="201.00" y1="888.50" x2="201.00" y2="891.00" stroke="#1a1a1a" stroke-width="1.8"/>
<line x1="211.37" y1="888.50" x2="211.37" y2="891.00" stroke="#1a1a1a" stroke-width="1.8"/>
<line x1="221.73" y1="888.50" x2="221.73" y2="891.00" stroke="#1a1a1a" stroke-width="1.8"/>
<line x1="232.10" y1="888.50" x2="232.10" y2="891.00" stroke="#1a1a1a" stroke-width="1.8"/>
<line x1="242.46" y1="888.50" x2="242.46" y2="892.10" stroke="#1a1a1a" stroke-width="1.8"/>
<line x1="252.82" y1="888.50" x2="252.82" y2="891.00" stroke="#1a1a1a" stroke-width="1.8"/>
<line x1="263.19" y1="888.50" x2="263.19" y2="891.00" stroke="#1a1a1a" stroke-width="1.8"/>
<line x1="273.55" y1="888.50" x2="273.55" y2="891.00" stroke="#1a1a1a" stroke-width="1.8"/>
<line x1="283.92" y1="888.50" x2="283.92" y2="891.00" stroke="#1a1a1a" stroke-width="1.8"/>
<line x1="294.28" y1="888.50" x2="294.28" y2="892.10" stroke="#1a1a1a" stroke-width="1.8"/>
<line x1="304.64" y1="888.50" x2="304.64" y2="891.00" stroke="#1a1a1a" stroke-width="1.8"/>
<line x1="315.01" y1="888.50" x2="315.01" y2="891.00" stroke="#1a1a1a" stroke-width="1.8"/>
<line x1="325.37" y1="888.50" x2="325.37" y2="891.00" stroke="#1a1a1a" stroke-width="1.8"/>
<line x1="335.74" y1="888.50" x2="335.74" y2="891.00" stroke="#1a1a1a" stroke-width="1.8"/>
<line x1="346.10" y1="888.50" x2="346.10" y2="892.10" stroke="#1a1a1a" stroke-width="1.8"/>
<text transform="translate(76.10,892.80) scale(1.05,1)" font-family="Liberation Serif" font-size="13" font-weight="bold" font-style="normal" text-anchor="end" >0</text>
<text transform="translate(76.10,850.67) scale(1.05,1)" font-family="Liberation Serif" font-size="13" font-weight="bold" font-style="normal" text-anchor="end" >4</text>
<text transform="translate(76.10,808.55) scale(1.05,1)" font-family="Liberation Serif" font-size="13" font-weight="bold" font-style="normal" text-anchor="end" >8</text>
<text transform="translate(76.10,766.42) scale(1.05,1)" font-family="Liberation Serif" font-size="13" font-weight="bold" font-style="normal" text-anchor="end" >12</text>
<text transform="translate(76.10,724.30) scale(1.05,1)" font-family="Liberation Serif" font-size="13" font-weight="bold" font-style="normal" text-anchor="end" >16</text>
<text transform="translate(357.00,892.80) scale(1.05,1)" font-family="Liberation Serif" font-size="13" font-weight="bold" font-style="normal" text-anchor="start" >0</text>
<text transform="translate(357.00,836.63) scale(1.05,1)" font-family="Liberation Serif" font-size="13" font-weight="bold" font-style="normal" text-anchor="start" >4</text>
<text transform="translate(357.00,780.47) scale(1.05,1)" font-family="Liberation Serif" font-size="13" font-weight="bold" font-style="normal" text-anchor="start" >8</text>
<text transform="translate(357.00,724.30) scale(1.05,1)" font-family="Liberation Serif" font-size="13" font-weight="bold" font-style="normal" text-anchor="start" >12</text>
<text x="87.00" y="909.60" font-family="Liberation Sans" font-size="12" font-weight="bold" font-style="normal" text-anchor="middle" >0</text>
<text x="138.82" y="909.60" font-family="Liberation Sans" font-size="12" font-weight="bold" font-style="normal" text-anchor="middle" >1</text>
<text x="190.64" y="909.60" font-family="Liberation Sans" font-size="12" font-weight="bold" font-style="normal" text-anchor="middle" >2</text>
<text x="242.46" y="909.60" font-family="Liberation Sans" font-size="12" font-weight="bold" font-style="normal" text-anchor="middle" >3</text>
<text x="294.28" y="909.60" font-family="Liberation Sans" font-size="12" font-weight="bold" font-style="normal" text-anchor="middle" >4</text>
<text x="346.10" y="909.60" font-family="Liberation Sans" font-size="12" font-weight="bold" font-style="normal" text-anchor="middle" >5</text>
<text x="-0.50" y="721.50" font-family="Liberation Sans" font-size="19.5" font-weight="normal" font-style="normal" text-anchor="start" letter-spacing="0.4">(d)</text>
<text transform="translate(44.60,570.50) rotate(-90)" font-family="Liberation Serif" font-size="15" font-weight="bold" text-anchor="middle"><tspan font-style="italic">L</tspan><tspan font-style="italic" font-size="9.5" dy="3.6">D</tspan><tspan dy="-3.6" font-style="italic"> / d</tspan><tspan font-style="italic" font-size="9.5" dy="3.6">C</tspan><tspan dy="-3.6" font-family="Liberation Sans" font-weight="normal" font-size="13"> [-]</tspan></text>
<text transform="translate(389.00,571.00) rotate(-90)" font-family="Liberation Serif" font-size="15" font-weight="bold" text-anchor="middle"><tspan font-style="italic">L</tspan><tspan font-style="italic" font-size="9.5" dy="3.6">S</tspan><tspan dy="-3.6" font-style="italic"> / d</tspan><tspan font-style="italic" font-size="9.5" dy="3.6">C</tspan><tspan dy="-3.6" font-family="Liberation Sans" font-weight="normal" font-size="13"> [-]</tspan></text>
<text transform="translate(46.20,805.50) rotate(-90)" font-family="Liberation Serif" font-size="15" font-weight="bold" text-anchor="middle"><tspan font-style="italic">L</tspan><tspan font-style="italic" font-size="9.5" dy="3.6">B</tspan><tspan dy="-3.6" font-style="italic"> / d</tspan><tspan font-style="italic" font-size="9.5" dy="3.6">C</tspan><tspan dy="-3.6" font-family="Liberation Sans" font-weight="normal" font-size="13"> [-]</tspan></text>
<text transform="translate(389.00,803.30) rotate(-90)" font-family="Liberation Serif" font-size="15" font-weight="bold" text-anchor="middle"><tspan font-style="italic">L</tspan><tspan font-style="italic" font-size="9.5" dy="3.6">S</tspan><tspan dy="-3.6" font-style="italic"> / d</tspan><tspan font-style="italic" font-size="9.5" dy="3.6">C</tspan><tspan dy="-3.6" font-family="Liberation Sans" font-weight="normal" font-size="13"> [-]</tspan></text>
<text transform="translate(221.30,693.90) rotate(0)" font-family="Liberation Serif" font-size="15" font-weight="bold" text-anchor="middle"><tspan font-style="italic">Q</tspan><tspan font-style="italic" font-size="9.5" dy="3.6">A</tspan><tspan dy="-3.6" font-style="italic"> / Q</tspan><tspan font-style="italic" font-size="9.5" dy="3.6">O</tspan><tspan dy="-3.6" font-family="Liberation Sans" font-weight="normal" font-size="13"> [-]</tspan></text>
<text transform="translate(220.20,927.00) rotate(0)" font-family="Liberation Serif" font-size="15" font-weight="bold" text-anchor="middle"><tspan font-style="italic">Q</tspan><tspan font-style="italic" font-size="9.5" dy="3.6">G</tspan><tspan dy="-3.6" font-style="italic"> / Q</tspan><tspan font-style="italic" font-size="9.5" dy="3.6">A</tspan><tspan dy="-3.6" font-family="Liberation Sans" font-weight="normal" font-size="13"> [-]</tspan></text>
<rect x="91.60" y="491.70" width="142.30" height="56.00" fill="#fff" stroke="#555" stroke-width="1.3"/>
<path d="M97.40,496.91 L100.12,502.01 L94.68,502.01 Z" fill="#2a1ee8" stroke="#3a2a80" stroke-width="0.6" stroke-linejoin="miter"/>
<text x="102.70" y="502.90" font-family="Liberation Serif" font-size="9.15" font-weight="bold" font-style="normal" text-anchor="start" >Droplet (flow visualization)</text>
<rect x="94.89" y="510.69" width="5.02" height="5.02" fill="none" stroke="#ff2d4d" stroke-width="1.0"/>
<text x="102.70" y="516.30" font-family="Liberation Serif" font-size="9.15" font-weight="bold" font-style="normal" text-anchor="start" >Droplet (spectroscopic detection)</text>
<circle cx="97.40" cy="526.90" r="2.98" fill="#2cf02c"/>
<text x="102.70" y="530.00" font-family="Liberation Serif" font-size="9.15" font-weight="bold" font-style="normal" text-anchor="start" >Slug (flow visualization)</text>
<path d="M97.40,537.74 L100.56,540.90 L97.40,544.06 L94.24,540.90 Z" fill="none" stroke="#1a1a1a" stroke-width="1.15"/>
<text x="102.70" y="544.00" font-family="Liberation Serif" font-size="9.15" font-weight="bold" font-style="normal" text-anchor="start" >Slug (spectroscopic detection)</text>
<rect x="119.70" y="723.30" width="142.80" height="56.20" fill="#fff" stroke="#555" stroke-width="1.3"/>
<path d="M126.50,727.47 L129.54,733.17 L123.46,733.17 Z" fill="#2a1ee8" stroke="#3a2a80" stroke-width="0.6" stroke-linejoin="miter"/>
<text x="130.90" y="733.80" font-family="Liberation Serif" font-size="9.15" font-weight="bold" font-style="normal" text-anchor="start" >Bubble (flow visualization)</text>
<rect x="123.70" y="742.00" width="5.61" height="5.61" fill="none" stroke="#ff2d4d" stroke-width="1.0"/>
<text x="130.90" y="747.90" font-family="Liberation Serif" font-size="9.15" font-weight="bold" font-style="normal" text-anchor="start" >Bubble (spectroscopic detection)</text>
<circle cx="126.50" cy="758.50" r="3.32" fill="#2cf02c"/>
<text x="130.90" y="761.60" font-family="Liberation Serif" font-size="9.15" font-weight="bold" font-style="normal" text-anchor="start" >Slug (flow visualization)</text>
<path d="M126.50,769.24 L129.66,772.40 L126.50,775.56 L123.34,772.40 Z" fill="none" stroke="#1a1a1a" stroke-width="1.15"/>
<text x="130.90" y="775.50" font-family="Liberation Serif" font-size="9.15" font-weight="bold" font-style="normal" text-anchor="start" >Slug (spectroscopic detection)</text>
<circle cx="100.00" cy="589.60" r="3.50" fill="#2cf02c"/>
<circle cx="104.40" cy="602.40" r="3.50" fill="#2cf02c"/>
<circle cx="112.80" cy="621.50" r="3.50" fill="#2cf02c"/>
<circle cx="138.80" cy="630.60" r="3.50" fill="#2cf02c"/>
<circle cx="190.70" cy="635.80" r="3.50" fill="#2cf02c"/>
<circle cx="242.50" cy="594.00" r="3.50" fill="#2cf02c"/>
<circle cx="294.30" cy="601.00" r="3.50" fill="#2cf02c"/>
<path d="M99.00,641.90 L102.20,647.90 L95.80,647.90 Z" fill="#2a1ee8" stroke="#3a2a80" stroke-width="0.6" stroke-linejoin="miter"/>
<path d="M104.20,641.60 L107.40,647.60 L101.00,647.60 Z" fill="#2a1ee8" stroke="#3a2a80" stroke-width="0.6" stroke-linejoin="miter"/>
<path d="M113.00,641.10 L116.20,647.10 L109.80,647.10 Z" fill="#2a1ee8" stroke="#3a2a80" stroke-width="0.6" stroke-linejoin="miter"/>
<path d="M138.80,634.90 L142.00,640.90 L135.60,640.90 Z" fill="#2a1ee8" stroke="#3a2a80" stroke-width="0.6" stroke-linejoin="miter"/>
<path d="M190.70,620.40 L193.90,626.40 L187.50,626.40 Z" fill="#2a1ee8" stroke="#3a2a80" stroke-width="0.6" stroke-linejoin="miter"/>
<path d="M190.70,624.60 L193.90,630.60 L187.50,630.60 Z" fill="#2a1ee8" stroke="#3a2a80" stroke-width="0.6" stroke-linejoin="miter"/>
<path d="M242.50,534.20 L245.70,540.20 L239.30,540.20 Z" fill="#2a1ee8" stroke="#3a2a80" stroke-width="0.6" stroke-linejoin="miter"/>
<path d="M294.60,515.90 L297.80,521.90 L291.40,521.90 Z" fill="#2a1ee8" stroke="#3a2a80" stroke-width="0.6" stroke-linejoin="miter"/>
<rect x="96.05" y="642.35" width="5.90" height="5.90" fill="none" stroke="#ff2d4d" stroke-width="1.0"/>
<rect x="101.25" y="642.85" width="5.90" height="5.90" fill="none" stroke="#ff2d4d" stroke-width="1.0"/>
<rect x="110.05" y="640.05" width="5.90" height="5.90" fill="none" stroke="#ff2d4d" stroke-width="1.0"/>
<rect x="110.05" y="645.05" width="5.90" height="5.90" fill="none" stroke="#ff2d4d" stroke-width="1.0"/>
<rect x="135.85" y="635.95" width="5.90" height="5.90" fill="none" stroke="#ff2d4d" stroke-width="1.0"/>
<rect x="187.75" y="624.35" width="5.90" height="5.90" fill="none" stroke="#ff2d4d" stroke-width="1.0"/>
<rect x="187.75" y="625.35" width="5.90" height="5.90" fill="none" stroke="#ff2d4d" stroke-width="1.0"/>
<rect x="239.55" y="535.65" width="5.90" height="5.90" fill="none" stroke="#ff2d4d" stroke-width="1.0"/>
<rect x="291.65" y="522.35" width="5.90" height="5.90" fill="none" stroke="#ff2d4d" stroke-width="1.0"/>
<path d="M100.00,584.70 L103.10,587.80 L100.00,590.90 L96.90,587.80 Z" fill="none" stroke="#1a1a1a" stroke-width="1.15"/>
<path d="M104.40,606.90 L107.50,610.00 L104.40,613.10 L101.30,610.00 Z" fill="none" stroke="#1a1a1a" stroke-width="1.15"/>
<path d="M112.80,614.90 L115.90,618.00 L112.80,621.10 L109.70,618.00 Z" fill="none" stroke="#1a1a1a" stroke-width="1.15"/>
<path d="M138.80,627.10 L141.90,630.20 L138.80,633.30 L135.70,630.20 Z" fill="none" stroke="#1a1a1a" stroke-width="1.15"/>
<path d="M190.70,630.40 L193.80,633.50 L190.70,636.60 L187.60,633.50 Z" fill="none" stroke="#1a1a1a" stroke-width="1.15"/>
<path d="M242.50,590.00 L245.60,593.10 L242.50,596.20 L239.40,593.10 Z" fill="none" stroke="#1a1a1a" stroke-width="1.15"/>
<path d="M294.30,596.00 L297.40,599.10 L294.30,602.20 L291.20,599.10 Z" fill="none" stroke="#1a1a1a" stroke-width="1.15"/>
<circle cx="104.40" cy="776.00" r="3.50" fill="#2cf02c"/>
<circle cx="113.30" cy="795.30" r="3.50" fill="#2cf02c"/>
<circle cx="113.30" cy="804.70" r="3.50" fill="#2cf02c"/>
<circle cx="138.80" cy="830.80" r="3.50" fill="#2cf02c"/>
<circle cx="191.00" cy="846.10" r="3.50" fill="#2cf02c"/>
<circle cx="242.70" cy="851.10" r="3.50" fill="#2cf02c"/>
<circle cx="294.40" cy="850.30" r="3.50" fill="#2cf02c"/>
<path d="M104.40,856.20 L107.60,862.20 L101.20,862.20 Z" fill="#2a1ee8" stroke="#3a2a80" stroke-width="0.6" stroke-linejoin="miter"/>
<path d="M113.30,846.80 L116.50,852.80 L110.10,852.80 Z" fill="#2a1ee8" stroke="#3a2a80" stroke-width="0.6" stroke-linejoin="miter"/>
<path d="M113.30,851.90 L116.50,857.90 L110.10,857.90 Z" fill="#2a1ee8" stroke="#3a2a80" stroke-width="0.6" stroke-linejoin="miter"/>
<path d="M138.80,839.60 L142.00,845.60 L135.60,845.60 Z" fill="#2a1ee8" stroke="#3a2a80" stroke-width="0.6" stroke-linejoin="miter"/>
<path d="M191.00,815.90 L194.20,821.90 L187.80,821.90 Z" fill="#2a1ee8" stroke="#3a2a80" stroke-width="0.6" stroke-linejoin="miter"/>
<path d="M242.70,792.40 L245.90,798.40 L239.50,798.40 Z" fill="#2a1ee8" stroke="#3a2a80" stroke-width="0.6" stroke-linejoin="miter"/>
<path d="M294.40,758.50 L297.60,764.50 L291.20,764.50 Z" fill="#2a1ee8" stroke="#3a2a80" stroke-width="0.6" stroke-linejoin="miter"/>
<rect x="101.45" y="845.15" width="5.90" height="5.90" fill="none" stroke="#ff2d4d" stroke-width="1.0"/>
<rect x="110.35" y="840.95" width="5.90" height="5.90" fill="none" stroke="#ff2d4d" stroke-width="1.0"/>
<rect x="110.35" y="842.95" width="5.90" height="5.90" fill="none" stroke="#ff2d4d" stroke-width="1.0"/>
<rect x="135.85" y="840.85" width="5.90" height="5.90" fill="none" stroke="#ff2d4d" stroke-width="1.0"/>
<rect x="188.05" y="810.65" width="5.90" height="5.90" fill="none" stroke="#ff2d4d" stroke-width="1.0"/>
<rect x="188.05" y="822.85" width="5.90" height="5.90" fill="none" stroke="#ff2d4d" stroke-width="1.0"/>
<rect x="239.75" y="793.45" width="5.90" height="5.90" fill="none" stroke="#ff2d4d" stroke-width="1.0"/>
<rect x="291.45" y="770.45" width="5.90" height="5.90" fill="none" stroke="#ff2d4d" stroke-width="1.0"/>
<path d="M104.40,794.00 L107.50,797.10 L104.40,800.20 L101.30,797.10 Z" fill="none" stroke="#1a1a1a" stroke-width="1.15"/>
<path d="M113.30,794.20 L116.40,797.30 L113.30,800.40 L110.20,797.30 Z" fill="none" stroke="#1a1a1a" stroke-width="1.15"/>
<path d="M113.30,809.60 L116.40,812.70 L113.30,815.80 L110.20,812.70 Z" fill="none" stroke="#1a1a1a" stroke-width="1.15"/>
<path d="M138.80,827.20 L141.90,830.30 L138.80,833.40 L135.70,830.30 Z" fill="none" stroke="#1a1a1a" stroke-width="1.15"/>
<path d="M191.00,838.40 L194.10,841.50 L191.00,844.60 L187.90,841.50 Z" fill="none" stroke="#1a1a1a" stroke-width="1.15"/>
<path d="M191.00,848.70 L194.10,851.80 L191.00,854.90 L187.90,851.80 Z" fill="none" stroke="#1a1a1a" stroke-width="1.15"/>
<path d="M242.70,851.00 L245.80,854.10 L242.70,857.20 L239.60,854.10 Z" fill="none" stroke="#1a1a1a" stroke-width="1.15"/>
<path d="M294.40,843.00 L297.50,846.10 L294.40,849.20 L291.30,846.10 Z" fill="none" stroke="#1a1a1a" stroke-width="1.15"/>
</svg>
</body></html>
